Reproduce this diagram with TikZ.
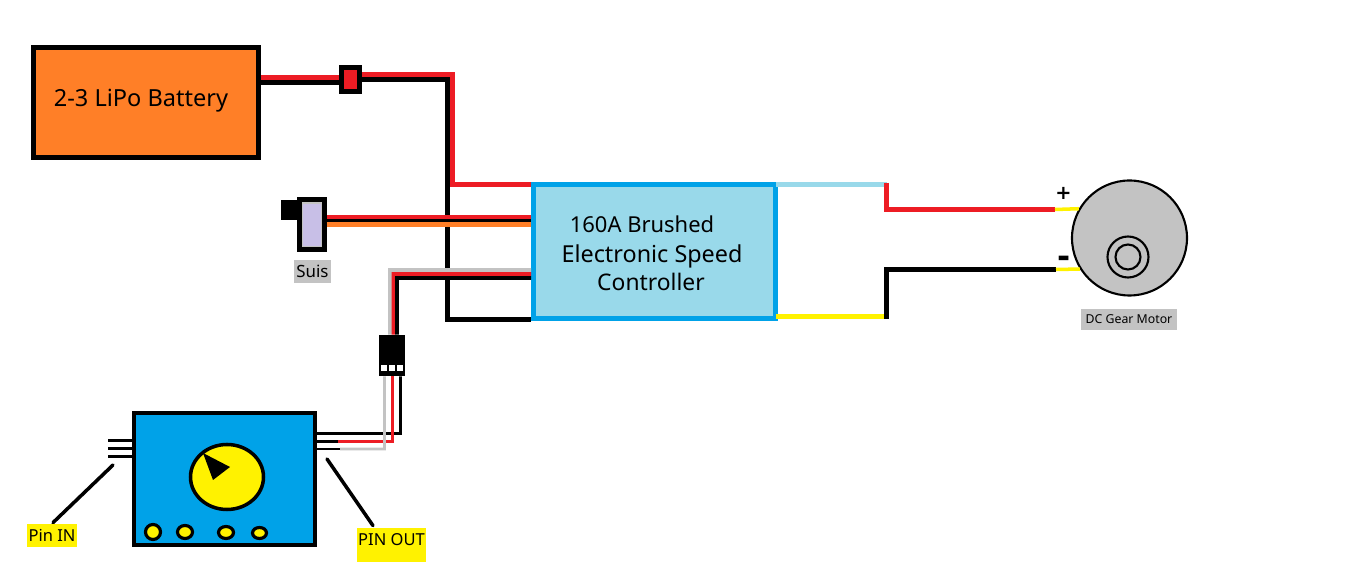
\documentclass[tikz,border=0pt]{standalone}
\usepackage{fontspec}
\setmainfont{Noto Sans}
\newfontfamily\signfont{DejaVu Sans}
\usetikzlibrary{calc, shapes.geometric}
\definecolor{escfill}{HTML}{99D9EA}
\definecolor{escblue}{HTML}{00A2E8}
\definecolor{wirered}{HTML}{ED1C24}
\definecolor{wireyellow}{HTML}{FFF200}
\definecolor{wireorange}{HTML}{FF7F27}
\definecolor{wiregray}{HTML}{C3C3C3}
\definecolor{lavender}{HTML}{C8BFE7}
\tikzset{
    sized/.style 2 args={minimum width=#1*0.02cm, minimum height=#2*0.02cm},
    box/.style={draw=black, inner sep=0pt, line width=2.8pt},
    solidpart/.style={fill=black, inner sep=0pt},
    round/.style={ellipse, draw=black, inner sep=0pt},
    hole/.style={round, fill=wireyellow, line width=1.8pt},
    wire/.style={line width=2.8pt},
    midwire/.style={line width=2pt},
    thinwire/.style={line width=1.7pt},
    pointer/.style={line width=2pt, line cap=round},
    caption/.style={inner sep=0pt},
    tag/.style={caption, fill=wiregray},
    hitag/.style={caption, fill=wireyellow}
}

\begin{document}
\begin{tikzpicture}[x=0.02cm, y=-0.02cm]
        \useasboundingbox (0, 0) rectangle (1360, 563);

        % parts
        \node[box, fill=wireorange, sized={225}{110}] (battery) at (146, 102.5) {};
        \node[caption, font=\fontsize{13.4}{15}\selectfont] (batterytext) at (141, 101) {2-3 LiPo Battery};
        \node[box, fill=wirered, sized={18}{24}] (plug) at (350.5, 79.5) {};
        \node[box, draw=escblue, fill=escfill, sized={242}{134}] (esc) at (654.5, 251.5) {};
        \node[caption, font=\fontsize{12.5}{15}\selectfont] (esctextA) at (642, 224) {160A Brushed};
        \node[caption, font=\fontsize{13.3}{15}\selectfont] (esctextB) at (652, 256) {Electronic Speed};
        \node[caption, font=\fontsize{13}{15}\selectfont] (esctextC) at (651, 282) {Controller};

        \node[solidpart, sized={19}{20}] (slider) at (290.5, 210) {};
        \node[box, fill=wiregray, sized={25}{50}] (switch) at (312, 224.5) {};
        \node[fill=lavender, inner sep=0pt, sized={18}{42}] (switchface) at (312, 225) {};
        \node[tag, sized={37}{23}, font=\fontsize{9.6}{11}\selectfont] (suis) at (312.5, 271.5) {Suis};

        \node[solidpart, sized={26}{41}] (servo) at (392, 355.5) {};
        \foreach \i/\x in {A/384, B/392, C/400}
            \node[fill=white, inner sep=0pt, sized={6}{6}] (servohole\i) at (\x, 368) {};

        \node[box, fill=escblue, line width=2.3pt, sized={181}{132}] (tester) at (224.5, 479) {};
        \node[round, fill=wireyellow, line width=2pt, sized={73}{65}] (knob) at (227, 477) {};
        \fill (203, 453) -- (230, 467) -- (213, 480) -- cycle;
        \node[hole, sized={15}{15}] (holeA) at (153, 532) {};
        \node[hole, sized={15}{13}] (holeB) at (185, 532) {};
        \node[hole, sized={15}{12}] (holeC) at (226, 532.5) {};
        \node[hole, sized={14}{11}] (holeD) at (259.5, 533) {};
        \node[hitag, sized={50}{23}, font=\fontsize{9.4}{11}\selectfont] (pinin) at (52, 535.5) {Pin IN};
        \node[hitag, sized={69}{34}, text depth=6pt, font=\fontsize{9.4}{11}\selectfont] (pinout) at (391.5, 545) {PIN OUT};
        \coordinate (gateIn) at (113, 465);
        \coordinate (gateOut) at (327, 459);

        \node[round, fill=wiregray, line width=1.2pt, sized={115}{115}] (motor) at (1129.5, 238) {};
        \node[round, line width=1.2pt, sized={41}{41}] (shaftA) at (1128, 257) {};
        \node[round, line width=1.2pt, sized={25}{25}] (shaftB) at (1128, 257) {};
        \node[caption, font=\signfont\bfseries\fontsize{11}{11}\selectfont] (plussign) at (1063.5, 193) {+};
        \node[caption, font=\signfont\bfseries\fontsize{18}{18}\selectfont] (minussign) at (1064, 262) {-};
        \node[tag, sized={96}{21}, font=\fontsize{7}{9}\selectfont] (motorname) at (1129, 319.5) {DC Gear Motor};

        % battery wires
        \draw[wire, black] (plug.east |- 0, 79.2) -- (447.5, 79.2) -- (447.5, 319.5) -- ($(esc.west)+(0, 68)$);
        \draw[wire, wirered] (plug.east |- 0, 74.2) -- (452.5, 74.2) -- (452.5, 184.5) -- ($(esc.west)+(0, -67)$);
        \draw[wire, wirered] ($(battery.east)+(0, -25)$) -- (plug.west |- 0, 77.5);
        \draw[wire, black] ($(battery.east)+(0, -20)$) -- (plug.west |- 0, 82.5);

        % switch wires
        \draw[midwire, wirered] ($(switch.east)+(0, -7.5)$) -- ($(esc.west)+(0, -34.5)$);
        \draw[midwire, black] ($(switch.east)+(0, -4)$) -- ($(esc.west)+(0, -31)$);
        \draw[wire, wireorange] (switch.east) -- ($(esc.west)+(0, -27)$);

        % signal lead, top half
        \draw[midwire, wiregray] ($(esc.west)+(0, 18.5)$) -- (390, 270) -- ($(servo.north)+(-2, 0)$);
        \draw[midwire, wirered] ($(esc.west)+(0, 22.5)$) -- (393.5, 274) -- ($(servo.north)+(1.5, 0)$);
        \draw[midwire, black] ($(esc.west)+(0, 26.5)$) -- (397, 278) -- ($(servo.north)+(5, 0)$);

        % signal lead, bottom half
        \draw[thinwire, black] ($(servo.south)+(8.5, 0)$) -- (400.5, 433.5) -- ($(tester.east)+(0, -45.5)$);
        \draw[thinwire, black] ($(tester.east)+(0, -37.5)$) -- (340, 441.5);
        \draw[thinwire, black] ($(tester.east)+(0, -30)$) -- (342, 449);
        \draw[thinwire, wirered] ($(servo.south)+(0.7, 0)$) -- (392.7, 441.5) -- (338, 441.5);
        \draw[thinwire, wiregray] ($(servo.south)+(-7.5, 0)$) -- (384.5, 449) -- (340, 449);
        \foreach \y in {-38.5, -30.5, -22.5}
            \draw[thinwire, black] ($(tester.west)+(0, \y)$) -- ($(tester.west)+(-24, \y)$);

        % pointers
        \draw[pointer] (gateIn) -- ($(pinin.north)+(1, -1)$);
        \draw[pointer] (gateOut) -- ($(pinout.north)+(-18.5, -2)$);

        % output wires
        \coordinate (cornerTop) at (886.5, 184.5);
        \coordinate (cornerBot) at (886.5, 316.5);
        \coordinate (joinTop) at (1055, 209.5);
        \coordinate (joinBot) at (1056, 269.5);
        \draw[wire, escfill] ($(esc.east)+(-2, -67)$) -- (cornerTop);
        \draw[wire, wireyellow] ($(esc.east)+(-2, 65)$) -- (cornerBot);
        \draw[wire, wirered] (886.5, 183) -- (886.5, 209.5) -- (joinTop);
        \draw[wire, black] (886.5, 319) -- (886.5, 269.5) -- (joinBot);
        \draw[midwire, wireyellow] (joinTop) -- (motor.150);
        \draw[midwire, wireyellow] (joinBot) -- (motor.212);
\end{tikzpicture}
\end{document}
